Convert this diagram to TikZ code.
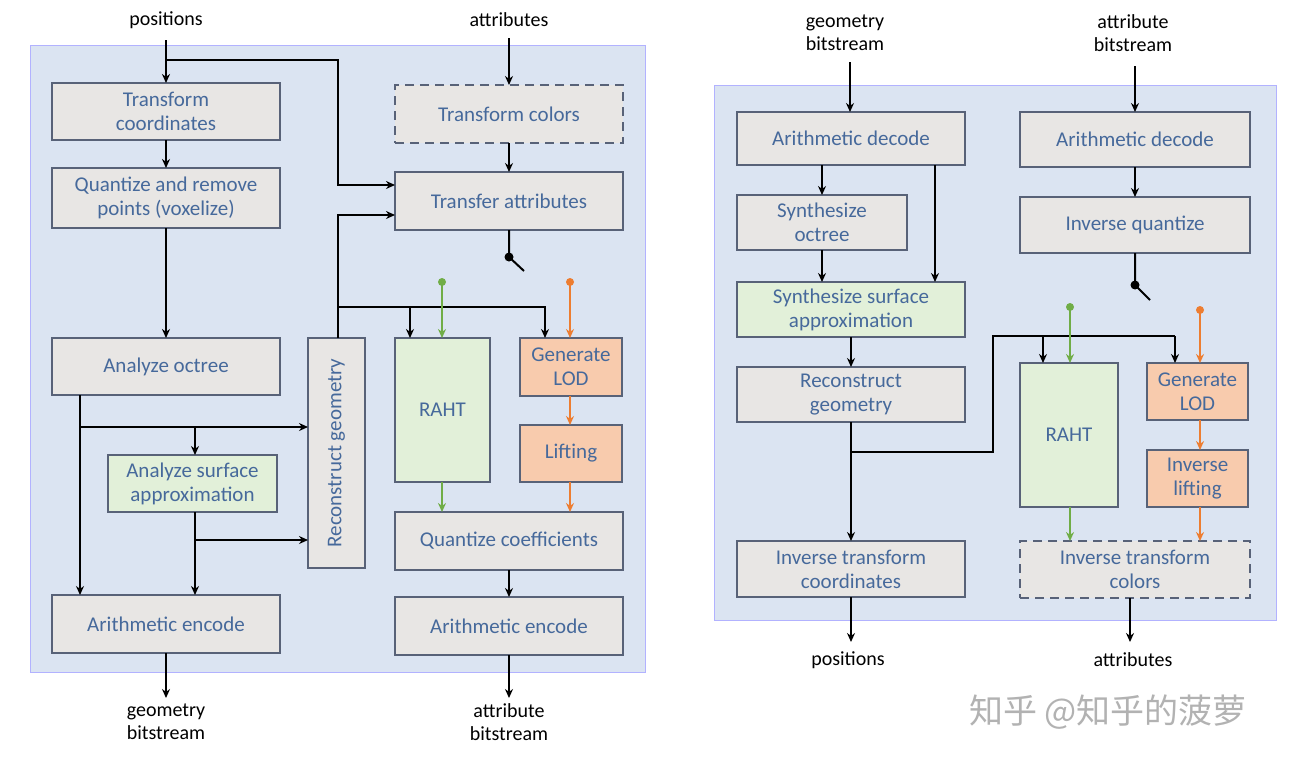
\documentclass[tikz,border=0pt]{standalone}
\usepackage{fontspec}
\setmainfont{Carlito}
\newfontfamily\cjk{Noto Sans CJK SC}
\usetikzlibrary{arrows.meta}
\definecolor{bgb}{RGB}{219,228,242}
\definecolor{bxf}{RGB}{232,230,228}
\definecolor{bxd}{RGB}{88,98,120}
\definecolor{txb}{RGB}{70,105,155}
\definecolor{grf}{RGB}{226,240,217}
\definecolor{orf}{RGB}{248,203,173}
\definecolor{grl}{RGB}{112,173,71}
\definecolor{orl}{RGB}{237,125,49}
\tikzset{
 bx/.style={draw=bxd, line width=2.4pt, fill=bxf, inner sep=0pt, outer sep=0pt, align=center, text=txb, font=\fontsize{21}{24}\selectfont},
 gb/.style={bx, fill=grf},
 ob/.style={bx, fill=orf},
 db/.style={bx, dash pattern=on 9pt off 6pt},
 lb/.style={align=center, font=\fontsize{20}{23}\selectfont, inner sep=0pt},
 ar/.style={line width=2pt, -{Stealth[length=9pt,width=8pt]}},
 ln/.style={line width=2pt},
 ga/.style={ar, draw=grl},
 oa/.style={ar, draw=orl},
}
\begin{document}
\begin{tikzpicture}[x=1pt,y=-1pt]
\useasboundingbox (0,0) rectangle (1297,763);
\fill[bgb] (30,45) rectangle (645,672);
\draw[blue!30, line width=0.8pt] (30,45) rectangle (645,672);
\fill[bgb] (714,85) rectangle (1276,620);
\draw[blue!30, line width=0.8pt] (714,85) rectangle (1276,620);
% left labels
\node[lb] (lpos) at (166,20) {positions};
\node[lb] (latt) at (509,20) {attributes};
\node[lb] (lgb) at (166,722) {geometry\\bitstream};
\node[lb] (lab) at (509,722) {attribute\\bitstream};
% left boxes
\node[bx, minimum width=228, minimum height=57] (tc) at (166,111.5) {Transform\\coordinates};
\node[bx, minimum width=228, minimum height=60] (qz) at (166,198) {Quantize and remove\\points (voxelize)};
\node[bx, minimum width=228, minimum height=57] (ao) at (166,366.5) {Analyze octree};
\node[gb, minimum width=169, minimum height=57] (as) at (192.5,483.5) {Analyze surface\\approximation};
\node[bx, minimum width=228, minimum height=58] (ael) at (166,624) {Arithmetic encode};
\node[bx, minimum width=57, minimum height=230] (rg) at (336.5,453) {\rotatebox{90}{Reconstruct geometry}};
\node[db, minimum width=228, minimum height=58] (tcol) at (509,114) {Transform colors};
\node[bx, minimum width=228, minimum height=58] (ta) at (509,201) {Transfer attributes};
\node[gb, minimum width=95, minimum height=144] (raht) at (442.5,410) {RAHT};
\node[ob, minimum width=102, minimum height=58] (glod) at (571,367) {Generate\\LOD};
\node[ob, minimum width=102, minimum height=57] (lift) at (571,453.5) {Lifting};
\node[bx, minimum width=228, minimum height=58] (qc) at (509,541) {Quantize coefficients};
\node[bx, minimum width=228, minimum height=58] (aer) at (509,626) {Arithmetic encode};
% left connectors
\coordinate (p0) at (166,40);
\coordinate (p1) at (166,60);
\draw[ar] (p0) -- (tc.north);
\draw[ar] (p1) -- (338,60) -- (338,185) -- (ta.west |- 0,185);
\draw[ar] (tc) -- (qz);
\draw[ar] (qz) -- (ao);
\coordinate (a1) at (80,395);
\coordinate (a2) at (80,427);
\coordinate (a3) at (195,427);
\draw[ar] (a1) -- (ael.north -| a1);
\draw[ar] (a2) -- (rg.west |- a2);
\draw[ar] (a3) -- (as.north -| a3);
\coordinate (s1) at (195,512);
\coordinate (s2) at (195,540);
\draw[ar] (s1) -- (ael.north -| s1);
\draw[ar] (s2) -- (rg.west |- s2);
\coordinate (r1) at (338,307);
\draw[ar] (rg.north -| 338,0) -- (338,215) -- (ta.west |- 0,215);
\draw[ar] (r1) -- (545,307) -- (glod.north -| 545,0);
\draw[ar] (410,307) -- (raht.north -| 410,0);
\coordinate (gd) at (442,282);
\fill[grl] (gd) circle (4);
\draw[ga] (gd) -- (raht.north -| gd);
\draw[ga] (raht.south -| gd) -- (qc.north -| gd);
\coordinate (od) at (570,282);
\fill[orl] (od) circle (4);
\draw[oa] (od) -- (glod.north -| od);
\draw[oa] (glod.south -| od) -- (lift.north -| od);
\draw[oa] (lift.south -| od) -- (qc.north -| od);
\draw[ar] (509,38) -- (tcol.north);
\draw[ar] (tcol) -- (ta);
\coordinate (sw) at (509,257);
\draw[ln] (ta.south) -- (sw) -- (524,271);
\fill (sw) circle (4.5);
\draw[ar] (qc) -- (aer);
\draw[ar] (ael.south) -- (166,698);
\draw[ar] (aer.south) -- (509,698);
% right labels
\node[lb] (rgb) at (845,33) {geometry\\bitstream};
\node[lb] (rab) at (1133,33) {attribute\\bitstream};
\node[lb] (rpos) at (848,660) {positions};
\node[lb] (ratt) at (1133,660) {attributes};
% right boxes
\node[bx, minimum width=228, minimum height=53] (adl) at (851,138.5) {Arithmetic decode};
\node[bx, minimum width=170, minimum height=55] (so) at (822,222.5) {Synthesize\\octree};
\node[gb, minimum width=228, minimum height=55] (ssa) at (851,309.5) {Synthesize surface\\approximation};
\node[bx, minimum width=228, minimum height=55] (rgr) at (851,394.5) {Reconstruct\\geometry};
\node[bx, minimum width=228, minimum height=56] (itc) at (851,569) {Inverse transform\\coordinates};
\node[bx, minimum width=230, minimum height=55] (adr) at (1135,139.5) {Arithmetic decode};
\node[bx, minimum width=230, minimum height=56] (iq) at (1135,225) {Inverse quantize};
\node[gb, minimum width=98, minimum height=144] (rahtr) at (1069,435) {RAHT};
\node[ob, minimum width=101, minimum height=57] (glodr) at (1197.5,391.5) {Generate\\LOD};
\node[ob, minimum width=101, minimum height=57] (il) at (1197.5,478.5) {Inverse\\lifting};
\node[db, minimum width=230, minimum height=57] (itcol) at (1135,569.5) {Inverse transform\\colors};
% right connectors
\draw[ar] (850,62) -- (adl.north -| 850,0);
\draw[ar] (1135,66) -- (adr.north);
\draw[ar] (adl.south -| so.north) -- (so.north);
\draw[ar] (935,165) -- (ssa.north -| 935,0);
\draw[ar] (so.south) -- (ssa.north -| so.south);
\draw[ar] (ssa.south) -- (rgr.north);
\coordinate (q1) at (851,452);
\draw[ar] (rgr.south) -- (itc.north);
\draw[ln] (q1) -- (993,452) -- (993,336) -- (1175,336);
\draw[ar] (1175,336) -- (glodr.north -| 1175,0);
\draw[ar] (1043,336) -- (rahtr.north -| 1043,0);
\draw[ar] (adr) -- (iq);
\coordinate (sw2) at (1135,285);
\draw[ln] (iq.south) -- (sw2) -- (1150,300);
\fill (sw2) circle (4.5);
\coordinate (gd2) at (1070,307);
\fill[grl] (gd2) circle (4);
\draw[ga] (gd2) -- (rahtr.north -| gd2);
\draw[ga] (rahtr.south -| gd2) -- (itcol.north -| gd2);
\coordinate (od2) at (1200,310);
\fill[orl] (od2) circle (4);
\draw[oa] (od2) -- (glodr.north -| od2);
\draw[oa] (glodr.south -| od2) -- (il.north -| od2);
\draw[oa] (il.south -| od2) -- (itcol.north -| od2);
\draw[ar] (itc.south) -- (851,642);
\draw[ar] (itcol.south -| 1130,0) -- (1130,642);
\node[font=\cjk\fontsize{34}{40}\selectfont, text=black!30] (wm) at (1108,712) {知乎 @知乎的菠萝};
\end{tikzpicture}
\end{document}
